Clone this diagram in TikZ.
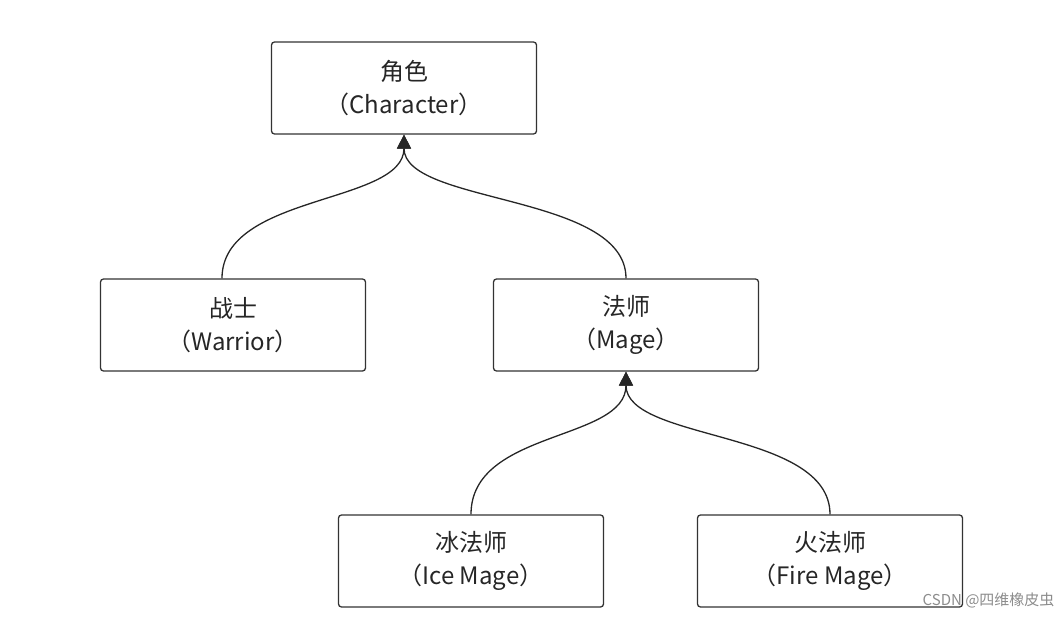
\documentclass[tikz,border=0pt]{standalone}
\usepackage{fontspec}
\setmainfont{Noto Sans CJK SC}
\usetikzlibrary{arrows.meta}
\begin{document}
\begin{tikzpicture}[x=1pt,y=-1pt,
  box/.style={draw=black!80,line width=1.3pt,rounded corners=3pt,minimum width=265pt,minimum height=92pt,align=center,font=\fontsize{24}{33}\selectfont,text=black!85},
  conn/.style={draw=black!85,line width=1.3pt,-{Triangle[length=14pt,width=14pt]}}]
\useasboundingbox (0,0) rectangle (1061,618);
\node[box] (c) at (404,88) {角色\\（Character）};
\node[box] (w) at (233,325) {战士\\（Warrior）};
\node[box] (m) at (626,325) {法师\\（Mage）};
\node[box] (i) at (471,561) {冰法师\\（Ice Mage）};
\node[box] (f) at (830,561) {火法师\\（Fire Mage）};
\draw[conn] ([xshift=-11pt]w.north) .. controls +(0,-85) and +(0,70) .. (c.south);
\draw[conn] (m.north) .. controls +(0,-85) and +(0,70) .. (c.south);
\draw[conn] (i.north) .. controls +(0,-85) and +(0,70) .. (m.south);
\draw[conn] (f.north) .. controls +(0,-85) and +(0,70) .. (m.south);
\node[font=\fontsize{15}{18}\selectfont,text=black!45,anchor=east] (wm) at (1058,600) {CSDN @四维橡皮虫};
\end{tikzpicture}
\end{document}
